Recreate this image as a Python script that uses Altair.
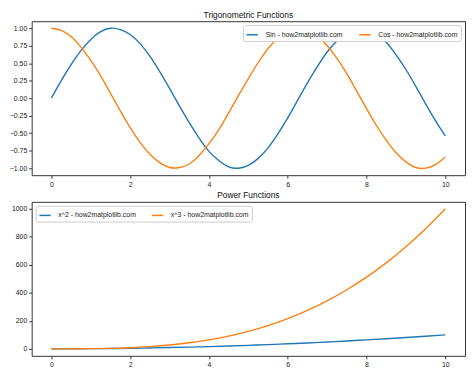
import altair as alt
import pandas as pd

# ---- data ----
x_trig = [0, 0.25, 0.5, 0.75, 1, 1.25, 1.5, 1.75, 2, 2.25, 2.5, 2.75, 3, 3.25, 3.5, 3.75,
          4, 4.25, 4.5, 4.75, 5, 5.25, 5.5, 5.75, 6, 6.25, 6.5, 6.75, 7, 7.25, 7.5, 7.75,
          8, 8.25, 8.5, 8.75, 9, 9.25, 9.5, 9.75, 10]
sin_vals = [0.00, 0.25, 0.48, 0.68, 0.84, 0.95, 1.00, 0.98, 0.91, 0.78, 0.60, 0.38, 0.14,
            -0.11, -0.35, -0.57, -0.76, -0.89, -0.98, -1.00, -0.96, -0.86, -0.71, -0.51,
            -0.28, -0.03, 0.22, 0.45, 0.66, 0.82, 0.94, 0.99, 0.99, 0.92, 0.80, 0.62, 0.41,
            0.17, -0.08, -0.32, -0.54]
cos_vals = [1.00, 0.97, 0.88, 0.73, 0.54, 0.32, 0.07, -0.18, -0.42, -0.63, -0.80, -0.92,
            -0.99, -0.99, -0.94, -0.82, -0.65, -0.45, -0.21, 0.04, 0.28, 0.51, 0.71, 0.86,
            0.96, 1.00, 0.98, 0.89, 0.75, 0.57, 0.35, 0.10, -0.15, -0.39, -0.60, -0.78,
            -0.91, -0.99, -1.00, -0.95, -0.84]

x_pow = [0, 0.5, 1, 1.5, 2, 2.5, 3, 3.5, 4, 4.5, 5, 5.5, 6, 6.5, 7, 7.5, 8, 8.5, 9, 9.5, 10]
sq_vals = [0, 0, 1, 2, 4, 6, 9, 12, 16, 20, 25, 30, 36, 42, 49, 56, 64, 72, 81, 90, 100]
cube_vals = [0, 0, 1, 3, 8, 16, 27, 43, 64, 91, 125, 166, 216, 275, 343, 422, 512, 614,
             729, 857, 1000]

sin_label = "Sin - how2matplotlib.com"
cos_label = "Cos - how2matplotlib.com"
sq_label = "x^2 - how2matplotlib.com"
cube_label = "x^3 - how2matplotlib.com"

trig_ticks_x = [0, 2, 4, 6, 8, 10]
trig_ticks_y = [-1.0, -0.75, -0.5, -0.25, 0.0, 0.25, 0.5, 0.75, 1.0]
pow_ticks_y = [0, 200, 400, 600, 800, 1000]

colors = ["#1f77b4", "#ff7f0e"]

trig_df = pd.DataFrame({
    "x": x_trig + x_trig,
    "y": sin_vals + cos_vals,
    "series": [sin_label] * len(x_trig) + [cos_label] * len(x_trig),
})
pow_df = pd.DataFrame({
    "x": x_pow + x_pow,
    "y": sq_vals + cube_vals,
    "series": [sq_label] * len(x_pow) + [cube_label] * len(x_pow),
})

font = "Liberation Sans"
axis_common = dict(grid=False, domain=False, ticks=True, tickSize=3, tickColor="#333",
                   labelFontSize=7, labelFont=font, labelColor="#222", labelPadding=2,
                   title=None)
legend_common = dict(title=None, direction="horizontal", symbolType="stroke",
                     symbolStrokeWidth=1.5, symbolSize=130, labelFontSize=7, labelFont=font,
                     labelColor="#222", fillColor="white", strokeColor="#cccccc",
                     padding=3, cornerRadius=2, columnPadding=12, labelOffset=7,
                     labelLimit=300, offset=4)


def title(text):
    return alt.TitleParams(text, fontSize=8.5, font=font, fontWeight="normal",
                           color="#111", offset=2)


top = alt.Chart(trig_df, title=title("Trigonometric Functions")).mark_line(
    strokeWidth=1.4, interpolate="natural"
).encode(
    x=alt.X("x:Q", scale=alt.Scale(domain=[-0.5, 10.5], nice=False, zero=False),
            axis=alt.Axis(values=trig_ticks_x, **axis_common)),
    y=alt.Y("y:Q", scale=alt.Scale(domain=[-1.1, 1.1], nice=False, zero=False),
            axis=alt.Axis(values=trig_ticks_y, format=".2f", **axis_common)),
    color=alt.Color("series:N", sort=[sin_label, cos_label],
                    scale=alt.Scale(domain=[sin_label, cos_label], range=colors),
                    legend=alt.Legend(orient="top-right", **legend_common)),
).properties(width=439, height=156)

bottom = alt.Chart(pow_df, title=title("Power Functions")).mark_line(
    strokeWidth=1.4, interpolate="natural"
).encode(
    x=alt.X("x:Q", scale=alt.Scale(domain=[-0.5, 10.5], nice=False, zero=False),
            axis=alt.Axis(values=trig_ticks_x, **axis_common)),
    y=alt.Y("y:Q", scale=alt.Scale(domain=[-50, 1050], nice=False, zero=False),
            axis=alt.Axis(values=pow_ticks_y, format="d", **axis_common)),
    color=alt.Color("series:N", sort=[sq_label, cube_label],
                    scale=alt.Scale(domain=[sq_label, cube_label], range=colors),
                    legend=alt.Legend(orient="top-left", **legend_common)),
).properties(width=439, height=156)

chart = alt.vconcat(top, bottom, spacing=3).resolve_scale(
    color="independent"
).resolve_legend(color="independent").properties(
    padding={"left": 0, "top": 0, "right": 0, "bottom": 0},
    background="white",
).configure_view(stroke="#333333", strokeWidth=1)

chart.save("out.html", embed_options={"renderer": "svg", "actions": False})
